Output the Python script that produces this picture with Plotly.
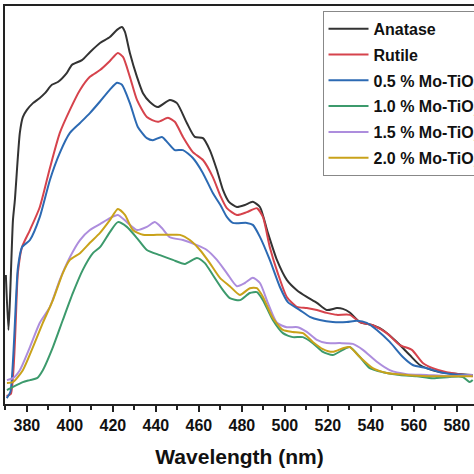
import plotly.graph_objects as go

# Wavelength (nm) / absorbance (arb. units)
anatase_x = [370.2, 371.4, 372.1, 373.5, 374.4, 376.7, 378.1, 380.0, 382.8, 386.0, 388.4, 391.6, 394.4, 398.6,
             400.9, 405.6, 409.3, 414.0, 418.6, 421.9, 424.2, 425.6, 427.9, 431.2, 434.0, 437.2, 440.9, 446.5,
             449.8, 454.4, 458.1, 461.9, 465.1, 468.4, 471.2, 474.0, 477.7, 481.4, 485.1, 488.4, 492.1, 496.3,
             500.9, 505.6, 510.2, 514.9, 519.5, 524.2, 527.0, 530.2, 534.9, 540.9, 545.6, 552.1, 558.1, 562.8,
             568.8, 575.3, 581.4, 587.4]
anatase_y = [32.4, 18.6, 26.1, 46.2, 51.3, 68.1, 72.1, 73.9, 75.6, 76.9, 78.1, 80.2, 80.9, 83.2,
             85.2, 86.4, 88.4, 90.7, 92.2, 94.0, 94.7, 93.5, 88.2, 82.2, 78.1, 75.9, 74.6, 76.4,
             75.6, 70.6, 67.1, 66.8, 63.8, 58.8, 53.8, 50.8, 49.5, 50.0, 50.8, 49.5, 43.0, 36.2,
             31.2, 28.6, 26.9, 25.4, 23.6, 24.1, 23.9, 23.0, 20.6, 19.8, 18.6, 15.6, 12.3, 9.8,
             8.5, 7.8, 7.5, 7.3]

rutile_x = [370.5, 372.5, 375.8, 377.7, 381.4, 386.0, 390.7, 395.3, 400.0, 404.7, 409.3, 414.0, 418.6, 422.3,
            424.7, 427.9, 431.2, 435.8, 440.9, 445.6, 448.8, 452.6, 457.2, 461.9, 466.5, 470.0, 473.0, 477.7,
            482.3, 487.0, 489.8, 493.0, 496.7, 500.9, 505.6, 510.2, 514.9, 519.5, 524.2, 530.2, 534.9, 540.9,
            547.4, 553.5, 559.1, 564.2, 568.8, 575.3, 581.4, 587.4]
rutile_y = [2.0, 2.5, 33.0, 39.4, 43.7, 49.5, 59.3, 68.1, 73.9, 78.9, 82.2, 83.9, 86.2, 88.2,
            87.2, 82.2, 76.4, 72.1, 70.9, 71.9, 70.9, 67.1, 63.3, 61.3, 57.0, 52.3, 49.2, 47.5,
            48.2, 49.2, 47.0, 39.4, 32.9, 26.9, 24.4, 24.1, 23.6, 22.9, 22.4, 22.4, 20.6, 19.8,
            17.8, 14.8, 13.6, 10.3, 9.0, 8.0, 7.5, 7.0]

mo05_x = [370.6, 372.3, 375.8, 377.7, 381.4, 386.0, 390.7, 395.3, 400.0, 404.7, 409.3, 414.0, 418.6, 421.9,
          424.2, 427.9, 431.6, 435.8, 438.6, 442.8, 445.6, 448.8, 452.6, 457.2, 461.9, 466.5, 470.0, 473.0,
          475.8, 482.3, 485.1, 488.4, 493.0, 497.7, 501.4, 507.0, 511.6, 516.3, 522.3, 528.8, 533.5, 538.1,
          542.8, 548.8, 554.9, 559.5, 566.0, 572.1, 578.1, 584.7, 587.4]
mo05_y = [1.5, 3.0, 34.2, 39.4, 41.2, 47.0, 56.3, 63.1, 68.1, 70.6, 73.1, 76.0, 79.0, 80.7,
          80.2, 75.6, 69.6, 66.8, 66.3, 67.1, 65.6, 63.8, 63.8, 61.8, 58.0, 53.0, 50.0, 47.0,
          45.5, 45.5, 45.0, 42.0, 36.2, 29.4, 25.6, 23.6, 21.9, 21.1, 20.6, 20.6, 20.9, 20.4,
          18.6, 15.6, 11.8, 9.8, 9.0, 8.0, 7.5, 7.3, 7.0]

mo10_x = [370.7, 373.5, 378.1, 381.4, 384.7, 387.4, 392.1, 396.7, 401.4, 406.0, 410.7, 414.0, 418.6, 422.3,
          426.5, 431.2, 435.8, 441.9, 447.9, 453.5, 459.1, 462.8, 466.5, 471.2, 474.4, 479.1, 483.7, 487.0,
          489.8, 494.4, 499.1, 503.7, 508.4, 513.0, 517.7, 522.3, 527.0, 530.2, 534.9, 539.5, 545.6, 553.5,
          561.4, 568.8, 576.7, 582.8, 586.0, 587.4]
mo10_y = [3.5, 4.3, 5.5, 6.0, 6.5, 8.5, 14.3, 21.1, 27.9, 33.7, 37.9, 39.4, 43.2, 45.7,
          44.5, 41.7, 38.7, 37.4, 36.2, 35.2, 36.7, 35.4, 32.4, 28.6, 26.6, 26.1, 27.9, 28.1,
          26.1, 21.1, 17.8, 16.8, 16.8, 15.3, 13.1, 12.3, 13.6, 14.3, 11.8, 9.0, 8.0, 7.3,
          7.0, 6.5, 6.8, 6.8, 5.5, 6.0]

mo15_x = [370.7, 373.5, 376.7, 381.4, 386.0, 390.7, 395.3, 400.0, 404.7, 409.3, 414.0, 418.6, 422.3, 426.5,
          431.2, 435.8, 439.5, 442.8, 446.5, 452.6, 459.1, 463.7, 468.4, 473.0, 477.7, 481.4, 485.1, 488.4,
          492.1, 496.3, 500.9, 506.0, 510.2, 514.9, 519.5, 525.6, 531.6, 536.3, 542.8, 548.8, 556.7, 566.0,
          575.3, 587.4]
mo15_y = [6.0, 6.5, 8.5, 14.3, 20.4, 24.4, 31.2, 36.9, 41.2, 43.7, 45.2, 46.7, 47.5, 45.7,
          43.7, 44.5, 45.7, 44.2, 41.9, 41.2, 39.9, 38.7, 36.2, 32.9, 29.6, 30.4, 31.7, 30.4,
          25.4, 20.4, 19.3, 19.3, 18.1, 16.1, 15.3, 15.3, 15.1, 13.6, 10.6, 8.5, 7.5, 7.3,
          7.0, 7.3]

mo20_x = [370.7, 373.5, 378.1, 382.8, 387.4, 392.1, 396.7, 400.0, 404.7, 409.3, 414.0, 418.6, 422.3, 425.6,
          429.3, 434.0, 440.5, 446.5, 451.2, 455.8, 460.5, 465.1, 469.8, 474.4, 479.1, 483.7, 487.0, 489.8,
          494.4, 499.1, 503.7, 508.4, 513.0, 517.7, 522.3, 527.0, 530.2, 534.9, 540.9, 547.4, 556.7, 566.0,
          575.3, 587.4]
mo20_y = [5.3, 5.5, 8.5, 14.3, 20.4, 26.1, 32.9, 36.2, 37.9, 40.5, 43.0, 46.2, 49.0, 47.5,
          43.7, 42.5, 42.5, 42.5, 42.5, 41.2, 38.7, 35.4, 31.7, 29.6, 27.4, 29.1, 29.1, 26.9,
          21.6, 18.6, 18.1, 17.8, 15.6, 13.8, 13.1, 14.0, 14.3, 11.8, 9.0, 7.8, 7.3, 7.0,
          7.0, 7.0]

names = ["Anatase", "Rutile", "0.5 % Mo-TiO<sub>2</sub>", "1.0 % Mo-TiO<sub>2</sub>",
         "1.5 % Mo-TiO<sub>2</sub>", "2.0 % Mo-TiO<sub>2</sub>"]
colors = ["#333333", "#d6434c", "#2c6ab3", "#3c9a6c", "#ad8ddd", "#c9a21a"]
xs = [anatase_x, rutile_x, mo05_x, mo10_x, mo15_x, mo20_x]
ys = [anatase_y, rutile_y, mo05_y, mo10_y, mo15_y, mo20_y]

fig = go.Figure()
for i, (n, c, x, y) in enumerate(zip(names, colors, xs, ys)):
    fig.add_trace(go.Scatter(x=x, y=y, mode="lines", name=n, legendgroup=str(i),
                             line=dict(color=c, width=2, shape="spline", smoothing=0.6)))

fig.update_layout(
    width=474, height=474,
    margin=dict(l=5, r=0, t=6, b=70, autoexpand=False),
    paper_bgcolor="white", plot_bgcolor="white",
    font=dict(family="Liberation Sans, Arial", color="#111111"),
    showlegend=True,
    legend=dict(x=0.677, y=0.988, xanchor="left", yanchor="top",
                bordercolor="#888888", borderwidth=1, bgcolor="white",
                font=dict(size=16, weight="bold", color="#111111"),
                tracegroupgap=2, itemwidth=40),
)
fig.update_xaxes(range=[369.8, 588], tick0=380, dtick=20, ticks="outside", ticklen=6, tickwidth=2,
                 tickcolor="#222222", showline=True, linewidth=2, linecolor="#222222", mirror=True,
                 showgrid=False, zeroline=False,
                 tickfont=dict(size=16, weight="bold", color="#111111"),
                 minor=dict(dtick=10, ticks="outside", ticklen=4, tickwidth=2, tickcolor="#222222"),
                 title=dict(text="Wavelength (nm)", font=dict(size=21, weight="bold", color="#111111"),
                            standoff=16))
fig.update_yaxes(range=[0, 100], showticklabels=False, ticks="", showline=True, linewidth=2,
                 linecolor="#222222", mirror=False, showgrid=False, zeroline=False)

fig.write_html("out.html")
